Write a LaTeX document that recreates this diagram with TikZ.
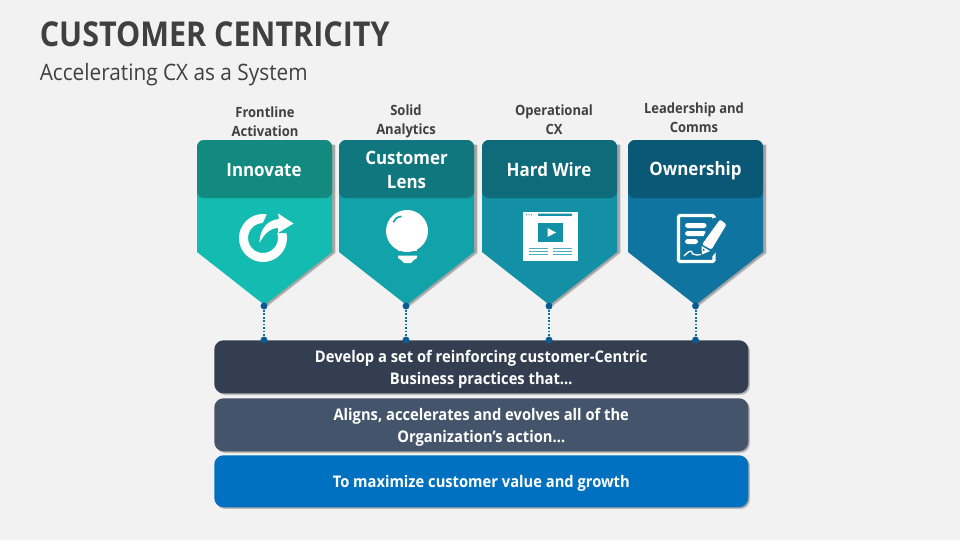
\documentclass[tikz,border=0pt]{standalone}
\usepackage{fontspec}
\setmainfont{Open Sans}[FakeStretch=0.92]
\newfontfamily\titlefont{Open Sans}[FakeStretch=0.89]
\usetikzlibrary{calc}
\definecolor{bgc}{HTML}{F2F2F2}
\definecolor{txt}{HTML}{404040}
\definecolor{hA}{HTML}{128A80}\definecolor{bA}{HTML}{14BBB0}
\definecolor{hB}{HTML}{11777F}\definecolor{bB}{HTML}{12A2AA}
\definecolor{hC}{HTML}{0F6A7A}\definecolor{bC}{HTML}{1390A5}
\definecolor{hD}{HTML}{0B5876}\definecolor{bD}{HTML}{1074A0}
\definecolor{barA}{HTML}{333F50}\definecolor{barB}{HTML}{44546A}\definecolor{barC}{HTML}{0070C0}
\definecolor{dotc}{HTML}{0B5A94}
\tikzset{
  toplabel/.style={font=\fontsize{10.6pt}{14.2pt}\selectfont\bfseries,text=txt,align=center,inner sep=0pt},
  headlabel/.style={font=\fontsize{13.8pt}{18.4pt}\selectfont\bfseries,text=white,align=center,inner sep=0pt},
  barlabel/.style={font=\fontsize{12pt}{16.8pt}\selectfont\bfseries,text=white,align=center,inner sep=0pt},
  enddot/.style={circle,fill=dotc,minimum size=5.2pt,inner sep=0pt},
  link/.style={dotc!85!cyan,line width=1.5pt,dash pattern=on 1.4pt off 1.2pt},
}
% #1 left x, #2 colour of header, #3 colour of body, #4 name
\newcommand{\pent}[4]{
  \foreach \k in {1,...,4}{
    \fill[black,opacity=.09] ($(#1+2.2+\k*0.35,144+\k*0.3)$) -- ++(135,0) -- ++(0,108) -- ++(-67.5,53) -- ++(-67.5,-53) -- cycle;
  }
  \fill[#3] (#1,150) -- (#1+135,150) -- (#1+135,252) -- (#1+67.5,305) -- (#1,252) -- cycle;
  \fill[#2,rounded corners=5pt] (#1,140) rectangle (#1+135,198);
}
\newcommand{\barbox}[4]{
  \foreach \k in {1,...,4}{
    \fill[black,opacity=.08,rounded corners=7pt] (214+1+\k*0.3,#1+1+\k*0.3) rectangle (748+1+\k*0.3,#2+1+\k*0.3);
  }
  \node[fill=#3,rounded corners=7pt,minimum width=400.5pt,minimum height={(#2-#1)*0.75pt},inner sep=0pt,anchor=north west] (#4) at (214,#1) {};
}
\begin{document}
\begin{tikzpicture}[x=0.75pt,y=-0.75pt]
\useasboundingbox (0,0) rectangle (960,540);
\fill[bgc] (0,0) rectangle (960,540);
\node[anchor=west,inner sep=0pt,text=txt,font=\titlefont\fontsize{25.7pt}{30pt}\selectfont\bfseries] (title) at (39.5,34.5) {CUSTOMER CENTRICITY};
\node[anchor=west,inner sep=0pt,text=txt,font=\fontsize{16.95pt}{20pt}\selectfont] (subtitle) at (39.5,75) {Accelerating CX as a System};

\node[toplabel] (ta) at (265,121.5) {Frontline\\Activation};
\node[toplabel] (tb) at (406,121.5) {Solid\\Analytics};
\node[toplabel] (tc) at (554,119.5) {Operational\\CX};
\node[toplabel] (td) at (694,117.5) {Leadership and\\Comms};

\pent{197}{hA}{bA}{a}
\pent{339}{hB}{bB}{b}
\pent{482}{hC}{bC}{c}
\pent{628}{hD}{bD}{d}

\node[headlabel] (ha) at (264,170.5) {Innovate};
\node[headlabel] (hb) at (406.5,170) {Customer\\Lens};
\node[headlabel] (hc) at (549,169.5) {Hard Wire};
\node[headlabel] (hd) at (695.5,170.5) {Ownership};

% icon: refresh arrow
\fill[white,even odd rule] (263,238) circle (24) (263,238) circle (15);
\fill[bA] (268,212) -- (282,208) -- (298,224) -- (289,233) -- (276,233) -- (262,246) -- (255,240) -- cycle;
\fill[white] (259.5,243) .. controls (259.5,230) and (267,220) .. (279,219) -- (278,213.5) -- (293.5,223.5) -- (278,233) -- (278,228) .. controls (270,228) and (264,234) .. (259.5,243) -- cycle;
% icon: bulb
\fill[white] (407,231) circle (21);
\fill[white] (398,251) -- (417,251) -- (417,246) -- (398,246) -- cycle;
\fill[white] (398,255.5) -- (417,255.5) -- (417,258) .. controls (414,260) and (412,261) .. (411,263) -- (404,263) .. controls (403,261) and (401,260) .. (398,258) -- cycle;
\draw[bB,line width=1.2pt,line cap=round] (393.5,222) .. controls (394.5,219) and (397,217) .. (401,216.5);
% icon: video page
\fill[white] (523,212) rectangle (578,261);
\fill[bC] (538,223) rectangle (563,242);
\fill[white] (547.5,228) -- (556,232.5) -- (547.5,237) -- cycle;
\fill[bC,rounded corners=.5pt] (538,213.5) rectangle (572,215.8);
\foreach \p in {526.5,529,531.5}{\fill[bC] (\p,214.8) circle (.7);}
\foreach \yy in {248,251,254}{
  \fill[bC!75!white] (529,\yy) rectangle (548,\yy+1.2);
  \fill[bC!75!white] (553,\yy) rectangle (572,\yy+1.2);
}
% icon: signed sheet with pen
\draw[white,line width=2.4pt,rounded corners=1pt] (678.5,215.5) rectangle (714,261.5);
\fill[white,rounded corners=2pt] (685,223) rectangle (706.5,228);
\fill[white,rounded corners=2pt] (685,231) rectangle (706.5,236);
\fill[white,rounded corners=2pt] (685,239) rectangle (698,244);
\draw[white,line width=1pt] (684,256) .. controls (688,252) and (690,250) .. (692,252) .. controls (692,256) and (695,253) .. (697,255) -- (701,254.5);
\fill[bD] (713,218) -- (729,218) -- (729,236) -- (712.5,256) -- (701,256) -- (700,243) -- cycle;
\fill[white,rounded corners=1pt] (720,219.5) -- (726.5,224.5) -- (711.5,249.5) -- (702,244.5) -- cycle;
\fill[white] (701.5,246) -- (710,251) -- (702,254.5) -- cycle;
\fill[bD] (703,248.5) -- (705,250) -- (703,251) -- cycle;

\barbox{340}{393}{barA}{ba}
\barbox{398}{451}{barB}{bb}
\barbox{455}{507}{barC}{bc}
\node[barlabel] at ($(ba.center)+(0,2.5)$) {Develop a set of reinforcing customer-Centric\\Business practices that…};
\node[barlabel] at ($(bb.center)+(0,2.5)$) {Aligns, accelerates and evolves all of the\\Organization’s action…};
\node[barlabel] at ($(bc.center)+(0,2)$) {To maximize customer value and growth};

\node[enddot] (ta1) at (264,306) {};
\node[enddot] (ta2) at (264,340) {};
\node[enddot] (tb1) at (406,306) {};
\node[enddot] (tb2) at (406,340) {};
\node[enddot] (tc1) at (549,306) {};
\node[enddot] (tc2) at (549,340) {};
\node[enddot] (td1) at (695.5,306) {};
\node[enddot] (td2) at (695.5,340) {};
\draw[link] (ta1) -- (ta2);
\draw[link] (tb1) -- (tb2);
\draw[link] (tc1) -- (tc2);
\draw[link] (td1) -- (td2);
\end{tikzpicture}
\end{document}
